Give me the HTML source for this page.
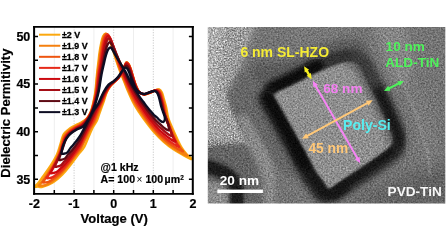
<!DOCTYPE html>
<html><head><meta charset="utf-8"><title>Dielectric permittivity and TEM</title>
<style>
html,body{margin:0;padding:0;background:#fff;}
body{width:448px;height:252px;overflow:hidden;}
svg{display:block}
text{font-family:"Liberation Sans",Arial,sans-serif;font-weight:bold;fill:#000}
.tl{font-size:12.5px;stroke:#000;stroke-width:0.2px}
.al{font-size:13.05px;stroke:#000;stroke-width:0.2px}
.lg{font-size:8.9px;stroke:#000;stroke-width:0.3px}
.an{font-size:10.6px;stroke:#000;stroke-width:0.2px}
.tm{font-weight:bold}
</style></head><body>
<svg width="448" height="252" viewBox="0 0 448 252">
<rect x="0" y="0" width="448" height="252" fill="#fff"/>
<line x1="54.30" y1="26.85" x2="54.30" y2="193.90" stroke="#ececec" stroke-width="0.9"/>
<line x1="74.10" y1="26.85" x2="74.10" y2="193.90" stroke="#c4c4c4" stroke-width="0.9" stroke-dasharray="1.2,1.4"/>
<line x1="93.90" y1="26.85" x2="93.90" y2="193.90" stroke="#ececec" stroke-width="0.9"/>
<line x1="113.70" y1="26.85" x2="113.70" y2="193.90" stroke="#c4c4c4" stroke-width="0.9" stroke-dasharray="1.2,1.4"/>
<line x1="133.50" y1="26.85" x2="133.50" y2="193.90" stroke="#ececec" stroke-width="0.9"/>
<line x1="153.30" y1="26.85" x2="153.30" y2="193.90" stroke="#c4c4c4" stroke-width="0.9" stroke-dasharray="1.2,1.4"/>
<line x1="173.10" y1="26.85" x2="173.10" y2="193.90" stroke="#ececec" stroke-width="0.9"/>
<path d="M192.00,159.00C191.67,158.93 191.43,159.23 190.00,158.60C188.57,157.97 186.15,156.73 183.40,155.20C180.65,153.67 176.82,151.67 173.50,149.40C170.18,147.13 166.60,144.33 163.50,141.60C160.40,138.87 157.65,136.07 154.90,133.00C152.15,129.93 149.48,126.45 147.00,123.20C144.52,119.95 142.17,116.70 140.00,113.50C137.83,110.30 136.08,107.92 134.00,104.00C131.92,100.08 129.22,93.97 127.50,90.00C125.78,86.03 125.02,83.50 123.70,80.20C122.38,76.90 120.82,73.40 119.60,70.20C118.38,67.00 117.45,64.20 116.40,61.00C115.35,57.80 114.30,54.17 113.30,51.00C112.30,47.83 111.28,44.45 110.40,42.00C109.52,39.55 108.85,37.70 108.00,36.30C107.15,34.90 106.13,33.57 105.30,33.60C104.47,33.63 103.68,34.93 103.00,36.50C102.32,38.07 101.77,40.42 101.20,43.00C100.63,45.58 100.07,48.83 99.60,52.00C99.13,55.17 98.83,58.33 98.40,62.00C97.97,65.67 97.52,69.00 97.00,74.00C96.48,79.00 95.97,87.00 95.30,92.00C94.63,97.00 93.83,100.50 93.00,104.00C92.17,107.50 91.43,110.47 90.30,113.00C89.17,115.53 87.82,117.57 86.20,119.20C84.58,120.83 82.60,121.67 80.60,122.80C78.60,123.93 76.23,124.87 74.20,126.00C72.17,127.13 70.18,128.17 68.40,129.60C66.62,131.03 64.80,132.27 63.50,134.60C62.20,136.93 61.68,140.27 60.60,143.60C59.52,146.93 58.63,150.95 57.00,154.60C55.37,158.25 53.18,161.77 50.80,165.50C48.42,169.23 44.85,173.98 42.70,177.00C40.55,180.02 39.20,182.00 37.90,183.60C36.60,185.20 34.88,186.10 34.90,186.60C34.92,187.10 36.75,186.57 38.00,186.60C39.25,186.63 40.02,187.43 42.40,186.80C44.78,186.17 49.00,184.83 52.30,182.80C55.60,180.77 59.22,177.53 62.20,174.60C65.18,171.67 67.50,168.57 70.20,165.20C72.90,161.83 76.03,157.50 78.40,154.40C80.77,151.30 82.68,149.58 84.40,146.60C86.12,143.62 87.27,139.77 88.70,136.50C90.13,133.23 91.67,129.58 93.00,127.00C94.33,124.42 95.70,123.08 96.70,121.00C97.70,118.92 98.20,116.75 99.00,114.50C99.80,112.25 100.63,109.92 101.50,107.50C102.37,105.08 103.35,102.50 104.20,100.00C105.05,97.50 105.63,94.75 106.60,92.50C107.57,90.25 108.72,88.25 110.00,86.50C111.28,84.75 112.90,83.42 114.30,82.00C115.70,80.58 117.12,79.58 118.40,78.00C119.68,76.42 120.98,74.42 122.00,72.50C123.02,70.58 123.77,68.17 124.50,66.50C125.23,64.83 125.73,62.92 126.40,62.50C127.07,62.08 127.82,63.00 128.50,64.00C129.18,65.00 129.88,66.83 130.50,68.50C131.12,70.17 131.40,71.42 132.20,74.00C133.00,76.58 134.25,81.17 135.30,84.00C136.35,86.83 137.47,89.37 138.50,91.00C139.53,92.63 140.33,93.25 141.50,93.80C142.67,94.35 143.92,94.52 145.50,94.30C147.08,94.08 149.25,93.22 151.00,92.50C152.75,91.78 154.65,90.52 156.00,90.00C157.35,89.48 158.13,89.03 159.10,89.40C160.07,89.77 161.05,90.77 161.80,92.20C162.55,93.63 162.88,95.53 163.60,98.00C164.32,100.47 165.32,103.67 166.10,107.00C166.88,110.33 167.23,114.42 168.30,118.00C169.37,121.58 171.08,125.17 172.50,128.50C173.92,131.83 175.33,134.92 176.80,138.00C178.27,141.08 179.63,144.25 181.30,147.00C182.97,149.75 185.02,152.50 186.80,154.50C188.58,156.50 191.13,158.25 192.00,159.00" fill="none" stroke="#fba80f" stroke-width="2.35" stroke-linejoin="round" stroke-linecap="round"/>
<path d="M187.50,155.70C187.18,155.62 186.88,155.86 185.57,155.24C184.26,154.62 182.11,153.46 179.65,151.99C177.20,150.51 173.80,148.55 170.84,146.39C167.88,144.23 164.68,141.64 161.89,139.03C159.10,136.42 156.61,133.69 154.10,130.75C151.59,127.81 149.12,124.49 146.84,121.40C144.56,118.31 142.45,115.21 140.43,112.21C138.41,109.22 136.74,107.15 134.71,103.45C132.67,99.75 129.97,93.88 128.21,90.01C126.46,86.15 125.55,83.53 124.20,80.26C122.86,77.00 121.35,73.60 120.15,70.42C118.95,67.24 118.05,64.40 117.02,61.19C115.99,57.97 114.96,54.32 113.95,51.14C112.93,47.95 111.84,44.55 110.94,42.08C110.04,39.61 109.37,37.75 108.53,36.34C107.69,34.93 106.74,33.59 105.92,33.63C105.11,33.66 104.34,34.96 103.66,36.54C102.98,38.11 102.43,40.44 101.86,43.07C101.29,45.70 100.73,49.12 100.26,52.32C99.78,55.53 99.48,58.68 99.01,62.29C98.54,65.90 98.01,69.06 97.45,74.00C96.88,78.94 96.33,86.95 95.64,91.90C94.95,96.85 94.14,100.27 93.31,103.71C92.48,107.15 91.75,109.99 90.64,112.54C89.52,115.08 88.22,117.16 86.62,118.96C85.03,120.77 83.06,122.05 81.05,123.37C79.04,124.68 76.63,125.59 74.56,126.85C72.49,128.10 70.41,129.34 68.63,130.90C66.86,132.46 65.18,133.87 63.93,136.20C62.69,138.53 62.18,141.69 61.17,144.90C60.16,148.11 59.32,151.96 57.85,155.46C56.38,158.96 54.45,162.36 52.36,165.90C50.27,169.44 47.17,173.88 45.30,176.70C43.43,179.52 42.26,181.32 41.15,182.80C40.03,184.29 38.60,185.12 38.60,185.60C38.60,186.08 40.03,185.75 41.16,185.68C42.30,185.61 43.52,185.92 45.42,185.18C47.33,184.44 50.10,183.00 52.58,181.23C55.05,179.46 57.83,177.03 60.27,174.57C62.72,172.11 64.84,169.44 67.25,166.47C69.65,163.50 72.46,159.69 74.70,156.74C76.95,153.80 78.93,151.79 80.74,148.81C82.54,145.83 83.92,142.17 85.54,138.86C87.15,135.55 88.90,131.80 90.44,128.96C91.98,126.13 93.59,124.22 94.80,121.85C96.01,119.49 96.75,117.14 97.69,114.79C98.63,112.45 99.49,110.16 100.43,107.79C101.37,105.42 102.31,103.12 103.31,100.57C104.32,98.02 105.33,94.82 106.44,92.47C107.55,90.12 108.66,88.21 109.97,86.46C111.28,84.71 112.88,83.40 114.28,81.99C115.69,80.57 117.11,79.57 118.40,77.99C119.68,76.41 120.98,74.41 122.00,72.50C123.02,70.58 123.76,68.17 124.50,66.51C125.23,64.84 125.73,62.93 126.40,62.52C127.06,62.10 127.81,63.01 128.50,64.01C129.18,65.01 129.88,66.84 130.50,68.51C131.11,70.18 131.40,71.43 132.20,74.01C132.99,76.59 134.24,81.17 135.29,84.00C136.33,86.82 137.42,89.33 138.45,90.96C139.48,92.59 140.29,93.22 141.46,93.77C142.62,94.33 143.85,94.51 145.44,94.28C147.02,94.05 149.25,93.09 150.94,92.40C152.64,91.71 154.34,90.62 155.60,90.17C156.86,89.72 157.59,89.33 158.50,89.70C159.42,90.08 160.36,91.04 161.08,92.44C161.80,93.84 162.14,95.70 162.82,98.10C163.49,100.50 164.40,103.62 165.11,106.81C165.83,110.00 166.15,113.84 167.11,117.25C168.07,120.67 169.62,124.12 170.89,127.30C172.16,130.48 173.43,133.43 174.71,136.33C176.00,139.24 177.19,142.17 178.61,144.72C180.03,147.26 181.76,149.78 183.24,151.61C184.72,153.44 186.79,155.02 187.50,155.70" fill="none" stroke="#f5800f" stroke-width="2.35" stroke-linejoin="round" stroke-linecap="round"/>
<path d="M183.00,151.30C182.69,151.22 182.32,151.40 181.14,150.81C179.96,150.23 178.06,149.17 175.91,147.78C173.75,146.40 170.79,144.53 168.18,142.53C165.58,140.52 162.76,138.20 160.28,135.78C157.80,133.36 155.56,130.76 153.30,128.01C151.03,125.25 148.76,122.14 146.68,119.26C144.61,116.38 142.72,113.49 140.86,110.73C139.00,107.97 137.47,106.15 135.52,102.70C133.57,99.24 130.91,93.70 129.14,89.97C127.38,86.25 126.30,83.56 124.94,80.36C123.57,77.16 122.14,73.89 120.95,70.77C119.77,67.65 118.87,64.84 117.82,61.65C116.78,58.46 115.73,54.83 114.69,51.64C113.64,48.44 112.48,44.98 111.56,42.48C110.63,39.98 109.95,38.05 109.13,36.61C108.31,35.18 107.42,33.82 106.64,33.85C105.85,33.88 105.08,35.19 104.41,36.79C103.74,38.38 103.18,40.73 102.61,43.41C102.04,46.10 101.50,49.71 101.01,52.92C100.53,56.13 100.21,59.15 99.71,62.67C99.21,66.18 98.63,69.15 98.02,74.00C97.42,78.85 96.80,86.89 96.08,91.78C95.36,96.67 94.54,99.97 93.71,103.33C92.88,106.69 92.18,109.37 91.08,111.93C89.98,114.49 88.70,116.71 87.11,118.70C85.51,120.69 83.54,122.40 81.51,123.87C79.48,125.33 77.04,126.17 74.94,127.49C72.84,128.81 70.66,130.18 68.90,131.78C67.15,133.38 65.60,134.88 64.43,137.11C63.25,139.34 62.77,142.20 61.83,145.17C60.90,148.13 60.12,151.67 58.82,154.89C57.53,158.12 55.86,161.26 54.07,164.50C52.28,167.74 49.66,171.78 48.08,174.33C46.50,176.88 45.52,178.45 44.59,179.77C43.66,181.10 42.45,181.86 42.50,182.30C42.55,182.74 43.77,182.52 44.87,182.41C45.96,182.30 47.36,182.43 49.07,181.64C50.77,180.86 52.99,179.36 55.10,177.70C57.21,176.05 59.59,173.94 61.73,171.71C63.88,169.47 65.82,167.03 67.97,164.31C70.13,161.59 72.62,158.14 74.65,155.40C76.68,152.66 78.49,150.65 80.15,147.86C81.81,145.07 83.09,141.75 84.61,138.65C86.13,135.55 87.77,132.03 89.26,129.25C90.75,126.47 92.32,124.36 93.54,121.97C94.75,119.58 95.58,117.21 96.55,114.89C97.52,112.58 98.38,110.36 99.36,108.07C100.34,105.78 101.30,103.75 102.43,101.14C103.56,98.53 104.90,94.89 106.14,92.42C107.38,89.96 108.54,88.09 109.89,86.34C111.23,84.60 112.82,83.34 114.23,81.94C115.65,80.54 117.09,79.53 118.38,77.96C119.67,76.38 120.97,74.39 121.99,72.49C123.01,70.59 123.75,68.20 124.48,66.56C125.22,64.91 125.72,63.03 126.38,62.62C127.05,62.21 127.79,63.12 128.47,64.11C129.15,65.11 129.85,66.92 130.47,68.58C131.08,70.24 131.38,71.52 132.17,74.08C132.96,76.65 134.20,81.19 135.22,83.98C136.24,86.77 137.28,89.22 138.30,90.84C139.32,92.46 140.17,93.12 141.34,93.69C142.51,94.26 143.73,94.49 145.32,94.25C146.91,94.02 149.24,92.95 150.89,92.30C152.53,91.65 154.03,90.73 155.20,90.34C156.37,89.95 157.05,89.60 157.91,89.97C158.77,90.34 159.67,91.23 160.36,92.57C161.05,93.91 161.40,95.72 162.03,98.00C162.66,100.29 163.48,103.29 164.13,106.29C164.77,109.29 165.07,112.82 165.92,116.01C166.78,119.20 168.16,122.46 169.28,125.42C170.40,128.39 171.52,131.14 172.63,133.81C173.73,136.48 174.74,139.13 175.92,141.44C177.10,143.75 178.50,146.01 179.68,147.66C180.86,149.30 182.45,150.69 183.00,151.30" fill="none" stroke="#ee5510" stroke-width="2.35" stroke-linejoin="round" stroke-linecap="round"/>
<path d="M179.00,146.70C178.70,146.62 178.26,146.74 177.19,146.19C176.13,145.64 174.49,144.68 172.61,143.40C170.73,142.12 168.19,140.34 165.92,138.50C163.64,136.67 161.18,134.63 158.98,132.41C156.78,130.18 154.77,127.73 152.72,125.17C150.67,122.62 148.56,119.73 146.67,117.07C144.78,114.41 143.09,111.74 141.38,109.21C139.67,106.68 138.29,105.09 136.42,101.88C134.56,98.66 131.96,93.49 130.19,89.93C128.42,86.36 127.18,83.59 125.79,80.47C124.41,77.35 123.07,74.23 121.89,71.21C120.71,68.19 119.79,65.46 118.72,62.35C117.64,59.24 116.55,55.71 115.47,52.55C114.38,49.39 113.16,45.91 112.21,43.38C111.26,40.85 110.58,38.84 109.77,37.36C108.97,35.89 108.15,34.51 107.39,34.52C106.63,34.54 105.87,35.87 105.21,37.47C104.54,39.07 103.97,41.44 103.41,44.14C102.84,46.84 102.30,50.53 101.81,53.68C101.31,56.84 100.97,59.70 100.45,63.09C99.92,66.47 99.31,69.24 98.66,74.00C98.02,78.76 97.32,86.82 96.57,91.64C95.82,96.46 94.99,99.64 94.16,102.91C93.32,106.19 92.66,108.68 91.57,111.26C90.48,113.85 89.22,116.23 87.62,118.41C86.02,120.59 84.02,122.73 81.97,124.34C79.92,125.94 77.45,126.68 75.32,128.04C73.18,129.40 70.91,130.87 69.17,132.48C67.44,134.10 66.03,135.64 64.92,137.72C63.80,139.80 63.35,142.32 62.49,144.98C61.64,147.64 60.91,150.82 59.79,153.71C58.68,156.60 57.27,159.43 55.78,162.32C54.29,165.22 52.15,168.82 50.86,171.06C49.56,173.30 48.77,174.62 48.03,175.78C47.29,176.93 46.30,177.61 46.40,178.00C46.50,178.39 47.56,178.27 48.62,178.13C49.68,177.99 51.22,177.98 52.77,177.16C54.32,176.35 56.11,174.80 57.92,173.25C59.74,171.69 61.78,169.85 63.66,167.83C65.55,165.81 67.31,163.58 69.22,161.12C71.12,158.66 73.31,155.59 75.11,153.09C76.91,150.59 78.52,148.66 80.00,146.12C81.48,143.58 82.62,140.67 84.00,137.85C85.38,135.03 86.88,131.84 88.28,129.18C89.67,126.53 91.18,124.31 92.37,121.93C93.56,119.56 94.43,117.22 95.42,114.95C96.41,112.69 97.27,110.56 98.29,108.36C99.31,106.15 100.30,104.38 101.54,101.71C102.79,99.05 104.39,94.95 105.76,92.36C107.12,89.77 108.34,87.90 109.74,86.15C111.14,84.40 112.72,83.25 114.15,81.87C115.59,80.49 117.05,79.45 118.35,77.88C119.65,76.31 120.95,74.32 121.96,72.46C122.98,70.60 123.71,68.29 124.44,66.70C125.18,65.10 125.68,63.30 126.34,62.91C127.01,62.52 127.73,63.40 128.41,64.38C129.08,65.36 129.77,67.13 130.38,68.78C131.00,70.43 131.32,71.75 132.11,74.28C132.89,76.80 134.09,81.21 135.08,83.94C136.07,86.67 137.03,89.03 138.04,90.63C139.05,92.24 139.95,92.96 141.13,93.56C142.32,94.16 143.55,94.44 145.16,94.22C146.78,93.99 149.22,92.82 150.83,92.20C152.43,91.58 153.72,90.84 154.80,90.51C155.88,90.19 156.51,89.87 157.32,90.24C158.14,90.60 159.01,91.42 159.68,92.69C160.35,93.96 160.74,95.70 161.34,97.87C161.94,100.04 162.68,102.91 163.29,105.71C163.89,108.51 164.18,111.72 164.96,114.67C165.74,117.62 166.98,120.68 167.98,123.42C168.97,126.16 169.98,128.70 170.93,131.13C171.88,133.56 172.73,135.92 173.68,137.99C174.63,140.05 175.72,142.06 176.61,143.51C177.49,144.96 178.60,146.17 179.00,146.70" fill="none" stroke="#e62a1a" stroke-width="2.35" stroke-linejoin="round" stroke-linecap="round"/>
<path d="M175.50,141.60C175.20,141.51 174.69,141.59 173.73,141.09C172.77,140.58 171.38,139.73 169.76,138.57C168.15,137.40 166.00,135.73 164.04,134.09C162.08,132.45 159.93,130.72 157.99,128.72C156.04,126.72 154.23,124.45 152.37,122.11C150.50,119.78 148.54,117.14 146.82,114.72C145.09,112.30 143.56,109.89 141.99,107.60C140.42,105.31 139.18,103.94 137.40,100.99C135.62,98.03 133.11,93.26 131.33,89.86C129.55,86.46 128.14,83.61 126.74,80.59C125.34,77.56 124.11,74.59 122.93,71.71C121.75,68.82 120.78,66.23 119.67,63.26C118.56,60.30 117.40,56.98 116.27,53.92C115.14,50.86 113.86,47.43 112.89,44.92C111.91,42.40 111.22,40.32 110.43,38.82C109.64,37.32 108.90,35.92 108.16,35.92C107.43,35.91 106.68,37.22 106.03,38.80C105.37,40.37 104.79,42.71 104.23,45.34C103.66,47.98 103.13,51.56 102.63,54.59C102.12,57.62 101.76,60.30 101.21,63.53C100.66,66.77 100.04,69.34 99.35,74.00C98.66,78.66 97.87,86.74 97.09,91.49C96.30,96.23 95.47,99.29 94.63,102.47C93.80,105.64 93.17,107.94 92.09,110.55C91.01,113.16 89.75,115.75 88.15,118.12C86.54,120.49 84.51,123.05 82.43,124.79C80.36,126.52 77.86,127.15 75.69,128.53C73.53,129.91 71.16,131.46 69.44,133.06C67.73,134.66 66.46,136.22 65.41,138.12C64.36,140.02 63.93,142.15 63.15,144.48C62.38,146.81 61.71,149.57 60.77,152.09C59.82,154.61 58.68,157.09 57.50,159.60C56.31,162.11 54.64,165.24 53.63,167.16C52.63,169.08 52.02,170.13 51.47,171.10C50.91,172.07 50.15,172.66 50.30,173.00C50.45,173.34 51.36,173.32 52.39,173.15C53.43,172.99 55.08,172.86 56.50,172.02C57.92,171.18 59.34,169.59 60.90,168.13C62.45,166.67 64.20,165.07 65.83,163.26C67.47,161.45 69.05,159.44 70.72,157.26C72.39,155.07 74.27,152.38 75.83,150.16C77.39,147.93 78.78,146.13 80.06,143.89C81.35,141.65 82.33,139.19 83.55,136.69C84.77,134.19 86.11,131.38 87.39,128.90C88.68,126.42 90.09,124.13 91.24,121.81C92.40,119.49 93.31,117.19 94.31,114.99C95.30,112.80 96.16,110.76 97.21,108.64C98.27,106.53 99.31,105.01 100.66,102.29C102.01,99.56 103.82,95.02 105.30,92.28C106.79,89.55 108.09,87.63 109.54,85.88C111.00,84.13 112.58,83.13 114.04,81.77C115.50,80.42 116.99,79.31 118.30,77.75C119.61,76.19 120.90,74.20 121.91,72.41C122.92,70.61 123.64,68.46 124.37,66.97C125.10,65.48 125.62,63.82 126.27,63.47C126.92,63.13 127.62,63.95 128.28,64.90C128.93,65.84 129.60,67.53 130.22,69.15C130.84,70.78 131.20,72.20 131.98,74.65C132.75,77.11 133.90,81.26 134.86,83.88C135.81,86.49 136.69,88.76 137.68,90.35C138.68,91.93 139.63,92.74 140.85,93.38C142.06,94.01 143.33,94.38 144.98,94.17C146.64,93.96 149.20,92.68 150.77,92.10C152.34,91.52 153.40,90.96 154.40,90.69C155.40,90.42 155.98,90.14 156.76,90.48C157.53,90.83 158.39,91.57 159.05,92.77C159.72,93.96 160.14,95.61 160.74,97.65C161.33,99.68 162.02,102.40 162.60,104.98C163.18,107.56 163.49,110.43 164.22,113.11C164.95,115.80 166.09,118.61 166.99,121.11C167.89,123.60 168.81,125.90 169.62,128.06C170.44,130.23 171.16,132.28 171.89,134.08C172.62,135.88 173.41,137.62 174.02,138.87C174.62,140.13 175.25,141.15 175.50,141.60" fill="none" stroke="#cc0a10" stroke-width="2.35" stroke-linejoin="round" stroke-linecap="round"/>
<path d="M172.30,136.20C172.01,136.12 171.41,136.15 170.56,135.69C169.71,135.24 168.55,134.51 167.18,133.47C165.82,132.42 164.06,130.88 162.39,129.44C160.73,128.01 158.89,126.60 157.18,124.85C155.48,123.10 153.84,121.01 152.15,118.92C150.46,116.83 148.63,114.45 147.05,112.29C145.47,110.13 144.09,107.98 142.66,105.94C141.22,103.90 140.12,102.74 138.43,100.04C136.74,97.35 134.31,93.00 132.53,89.77C130.76,86.55 129.18,83.64 127.77,80.72C126.35,77.80 125.24,74.98 124.06,72.26C122.87,69.54 121.83,67.13 120.67,64.38C119.51,61.64 118.28,58.63 117.10,55.77C115.92,52.91 114.58,49.64 113.58,47.21C112.58,44.79 111.88,42.70 111.11,41.22C110.34,39.74 109.67,38.38 108.96,38.34C108.25,38.30 107.52,39.52 106.87,40.98C106.22,42.44 105.63,44.66 105.07,47.10C104.50,49.54 103.98,52.80 103.47,55.62C102.95,58.44 102.56,60.94 101.99,64.00C101.43,67.07 100.80,69.45 100.07,74.00C99.35,78.55 98.46,86.67 97.64,91.33C96.81,96.00 95.97,98.92 95.14,102.00C94.30,105.07 93.71,107.16 92.64,109.79C91.56,112.43 90.31,115.25 88.69,117.82C87.06,120.39 85.00,123.35 82.90,125.19C80.81,127.04 78.29,127.53 76.11,128.89C73.92,130.26 71.47,131.85 69.79,133.39C68.11,134.92 66.99,136.44 66.02,138.10C65.06,139.76 64.67,141.43 63.99,143.35C63.32,145.27 62.73,147.53 61.99,149.60C61.24,151.67 60.39,153.72 59.52,155.79C58.65,157.85 57.48,160.45 56.77,162.00C56.07,163.55 55.66,164.30 55.30,165.06C54.94,165.83 54.39,166.32 54.60,166.60C54.81,166.88 55.58,166.95 56.59,166.77C57.59,166.59 59.36,166.35 60.65,165.50C61.95,164.65 63.04,163.03 64.35,161.68C65.66,160.33 67.12,158.97 68.51,157.39C69.90,155.81 71.30,154.07 72.71,152.21C74.12,150.34 75.68,148.10 76.97,146.21C78.27,144.33 79.40,142.75 80.46,140.89C81.52,139.02 82.30,137.10 83.33,135.00C84.36,132.91 85.50,130.56 86.64,128.32C87.78,126.08 89.08,123.78 90.18,121.56C91.27,119.34 92.21,117.11 93.21,115.00C94.20,112.90 95.05,110.95 96.14,108.93C97.24,106.90 98.33,105.65 99.77,102.86C101.21,100.07 103.20,95.09 104.79,92.20C106.37,89.31 107.77,87.29 109.29,85.53C110.80,83.77 112.40,82.97 113.89,81.64C115.38,80.32 116.91,79.12 118.23,77.57C119.55,76.01 120.81,74.01 121.82,72.32C122.82,70.62 123.52,68.73 124.24,67.41C124.97,66.09 125.51,64.67 126.14,64.40C126.78,64.12 127.43,64.85 128.06,65.75C128.70,66.65 129.34,68.19 129.95,69.78C130.57,71.36 131.00,72.94 131.76,75.28C132.52,77.61 133.61,81.33 134.52,83.78C135.43,86.24 136.23,88.42 137.22,89.98C138.22,91.54 139.22,92.45 140.48,93.14C141.74,93.83 143.07,94.31 144.78,94.12C146.48,93.93 149.18,92.54 150.71,92.00C152.25,91.46 153.09,91.07 154.00,90.86C154.91,90.64 155.46,90.40 156.20,90.72C156.94,91.05 157.79,91.70 158.45,92.81C159.11,93.92 159.59,95.48 160.19,97.37C160.78,99.26 161.43,101.82 162.00,104.16C162.58,106.50 162.92,109.01 163.62,111.42C164.32,113.83 165.36,116.38 166.18,118.61C167.00,120.83 167.85,122.88 168.55,124.76C169.25,126.64 169.84,128.38 170.37,129.91C170.90,131.44 171.40,132.90 171.72,133.95C172.04,135.00 172.20,135.82 172.30,136.20" fill="none" stroke="#a50e16" stroke-width="2.35" stroke-linejoin="round" stroke-linecap="round"/>
<path d="M168.60,130.30C168.32,130.22 167.64,130.21 166.90,129.81C166.16,129.41 165.25,128.81 164.16,127.91C163.07,127.01 161.71,125.62 160.36,124.41C159.01,123.20 157.51,122.15 156.07,120.67C154.63,119.18 153.20,117.33 151.71,115.50C150.22,113.67 148.54,111.59 147.13,109.70C145.72,107.82 144.51,105.96 143.23,104.19C141.95,102.41 141.01,101.46 139.43,99.04C137.86,96.62 135.53,92.71 133.77,89.67C132.01,86.64 130.28,83.66 128.86,80.85C127.44,78.05 126.44,75.39 125.25,72.86C124.06,70.33 122.94,68.15 121.72,65.70C120.50,63.24 119.18,60.68 117.94,58.12C116.70,55.57 115.31,52.59 114.28,50.37C113.26,48.15 112.55,46.18 111.80,44.80C111.05,43.42 110.45,42.18 109.77,42.09C109.09,41.99 108.37,43.02 107.73,44.25C107.09,45.47 106.49,47.38 105.93,49.46C105.36,51.55 104.85,54.26 104.33,56.76C103.80,59.27 103.37,61.62 102.79,64.49C102.21,67.37 101.59,69.55 100.82,74.00C100.06,78.45 99.07,86.58 98.21,91.17C97.35,95.75 96.49,98.53 95.66,101.51C94.83,104.48 94.28,106.34 93.21,109.01C92.14,111.68 90.88,114.75 89.24,117.51C87.60,120.27 85.49,123.64 83.37,125.59C81.25,127.54 78.73,127.88 76.52,129.22C74.31,130.56 71.78,132.18 70.13,133.64C68.48,135.10 67.52,136.56 66.64,137.96C65.75,139.36 65.41,140.56 64.83,142.04C64.26,143.52 63.76,145.26 63.21,146.86C62.66,148.47 62.09,150.06 61.55,151.66C61.00,153.26 60.31,155.32 59.91,156.48C59.51,157.64 59.29,158.09 59.13,158.64C58.96,159.19 58.62,159.58 58.90,159.80C59.18,160.02 59.80,160.19 60.79,159.99C61.77,159.79 63.63,159.45 64.82,158.60C66.00,157.74 66.80,156.09 67.88,154.85C68.96,153.60 70.14,152.48 71.30,151.13C72.45,149.79 73.65,148.32 74.81,146.78C75.96,145.25 77.21,143.46 78.23,141.94C79.26,140.41 80.13,139.09 80.96,137.62C81.78,136.16 82.34,134.80 83.17,133.13C84.00,131.46 84.94,129.60 85.93,127.62C86.93,125.65 88.10,123.37 89.13,121.27C90.16,119.16 91.13,117.01 92.12,115.00C93.11,112.99 93.94,111.14 95.07,109.21C96.20,107.29 97.36,106.28 98.89,103.43C100.41,100.58 102.54,95.16 104.22,92.10C105.90,89.05 107.39,86.87 108.97,85.10C110.55,83.33 112.19,82.78 113.71,81.49C115.24,80.19 116.80,78.87 118.13,77.32C119.46,75.77 120.70,73.73 121.69,72.19C122.67,70.64 123.35,69.14 124.06,68.07C124.77,67.01 125.34,65.95 125.96,65.77C126.57,65.60 127.14,66.20 127.74,67.02C128.34,67.84 128.94,69.17 129.56,70.70C130.17,72.23 130.69,74.04 131.44,76.20C132.20,78.36 133.21,81.44 134.08,83.66C134.95,85.88 135.67,88.00 136.66,89.53C137.66,91.06 138.72,92.09 140.03,92.84C141.34,93.60 142.78,94.22 144.55,94.06C146.32,93.90 149.15,92.41 150.66,91.90C152.17,91.39 152.77,91.19 153.60,91.03C154.43,90.87 154.92,90.65 155.62,90.95C156.32,91.25 157.15,91.81 157.80,92.81C158.46,93.82 158.97,95.27 159.55,97.00C160.12,98.73 160.72,101.11 161.26,103.19C161.80,105.27 162.16,107.40 162.79,109.50C163.43,111.60 164.35,113.87 165.07,115.80C165.78,117.73 166.53,119.48 167.09,121.07C167.64,122.65 168.09,124.04 168.40,125.28C168.71,126.53 168.90,127.70 168.93,128.54C168.97,129.37 168.66,130.01 168.60,130.30" fill="none" stroke="#5e0a14" stroke-width="2.35" stroke-linejoin="round" stroke-linecap="round"/>
<path d="M163.20,122.00C162.93,121.93 162.20,121.90 161.60,121.60C161.00,121.30 160.37,120.88 159.60,120.20C158.83,119.52 157.95,118.37 157.00,117.50C156.05,116.63 154.98,116.08 153.90,115.00C152.82,113.92 151.70,112.43 150.50,111.00C149.30,109.57 147.87,107.90 146.70,106.40C145.53,104.90 144.57,103.43 143.50,102.00C142.43,100.57 141.72,99.88 140.30,97.80C138.88,95.72 136.72,92.30 135.00,89.50C133.28,86.70 131.42,83.67 130.00,81.00C128.58,78.33 127.70,75.80 126.50,73.50C125.30,71.20 124.08,69.28 122.80,67.20C121.52,65.12 120.10,63.12 118.80,61.00C117.50,58.88 116.05,56.37 115.00,54.50C113.95,52.63 113.23,50.97 112.50,49.80C111.77,48.63 111.25,47.67 110.60,47.50C109.95,47.33 109.23,47.97 108.60,48.80C107.97,49.63 107.37,50.97 106.80,52.50C106.23,54.03 105.73,55.92 105.20,58.00C104.67,60.08 104.20,62.33 103.60,65.00C103.00,67.67 102.40,69.67 101.60,74.00C100.80,78.33 99.70,86.50 98.80,91.00C97.90,95.50 97.03,98.13 96.20,101.00C95.37,103.87 94.87,105.50 93.80,108.20C92.73,110.90 91.47,114.23 89.80,117.20C88.13,120.17 85.97,123.93 83.80,126.00C81.63,128.07 79.07,128.27 76.80,129.60C74.53,130.93 71.87,132.60 70.20,134.00C68.53,135.40 67.67,136.83 66.80,138.00C65.93,139.17 65.55,139.92 65.00,141.00C64.45,142.08 63.93,143.33 63.50,144.50C63.07,145.67 62.70,146.83 62.40,148.00C62.10,149.17 61.85,150.70 61.70,151.50C61.55,152.30 61.50,152.45 61.50,152.80C61.50,153.15 61.37,153.43 61.70,153.60C62.03,153.77 62.53,154.02 63.50,153.80C64.47,153.58 66.42,153.17 67.50,152.30C68.58,151.43 69.12,149.75 70.00,148.60C70.88,147.45 71.83,146.53 72.80,145.40C73.77,144.27 74.83,143.03 75.80,141.80C76.77,140.57 77.77,139.20 78.60,138.00C79.43,136.80 80.13,135.70 80.80,134.60C81.47,133.50 81.90,132.67 82.60,131.40C83.30,130.13 84.10,128.73 85.00,127.00C85.90,125.27 87.00,123.00 88.00,121.00C89.00,119.00 90.00,116.92 91.00,115.00C92.00,113.08 92.83,111.33 94.00,109.50C95.17,107.67 96.40,106.92 98.00,104.00C99.60,101.08 101.83,95.23 103.60,92.00C105.37,88.77 106.95,86.38 108.60,84.60C110.25,82.82 111.93,82.57 113.50,81.30C115.07,80.03 116.67,78.55 118.00,77.00C119.33,75.45 120.53,73.33 121.50,72.00C122.47,70.67 123.10,69.72 123.80,69.00C124.50,68.28 125.12,67.73 125.70,67.70C126.28,67.67 126.75,68.08 127.30,68.80C127.85,69.52 128.38,70.55 129.00,72.00C129.62,73.45 130.25,75.58 131.00,77.50C131.75,79.42 132.67,81.58 133.50,83.50C134.33,85.42 135.00,87.50 136.00,89.00C137.00,90.50 138.12,91.67 139.50,92.50C140.88,93.33 142.45,94.12 144.30,94.00C146.15,93.88 149.12,92.27 150.60,91.80C152.08,91.33 152.47,91.32 153.20,91.20C153.93,91.08 154.37,90.87 155.00,91.10C155.63,91.33 156.40,91.75 157.00,92.60C157.60,93.45 158.10,94.72 158.60,96.20C159.10,97.68 159.57,99.78 160.00,101.50C160.43,103.22 160.72,104.83 161.20,106.50C161.68,108.17 162.38,110.00 162.90,111.50C163.42,113.00 163.97,114.33 164.30,115.50C164.63,116.67 164.87,117.62 164.90,118.50C164.93,119.38 164.78,120.22 164.50,120.80C164.22,121.38 163.42,121.80 163.20,122.00" fill="none" stroke="#0d0d22" stroke-width="2.35" stroke-linejoin="round" stroke-linecap="round"/>
<path d="M33.10,26.85H193.80M33.10,193.90H193.80" stroke="#000" stroke-width="1.6" fill="none"/>
<path d="M34.10,26.05V194.70M192.80,26.05V194.70" stroke="#000" stroke-width="2" fill="none"/>
<path d="M54.30,193.90v-3.9M74.10,193.90v-3.9M93.90,193.90v-3.9M113.70,193.90v-3.9M133.50,193.90v-3.9M153.30,193.90v-3.9M173.10,193.90v-3.9M34.10,179.35h3.9M192.80,179.35h-3.9M34.10,155.52h3.9M192.80,155.52h-3.9M34.10,131.70h3.9M192.80,131.70h-3.9M34.10,107.88h3.9M192.80,107.88h-3.9M34.10,84.05h3.9M192.80,84.05h-3.9M34.10,60.22h3.9M192.80,60.22h-3.9M34.10,36.40h3.9M192.80,36.40h-3.9" stroke="#000" stroke-width="1.5" fill="none"/>
<text x="34.30" y="207.8" text-anchor="middle" class="tl">-2</text>
<text x="73.90" y="207.8" text-anchor="middle" class="tl">-1</text>
<text x="113.70" y="207.8" text-anchor="middle" class="tl">0</text>
<text x="153.30" y="207.8" text-anchor="middle" class="tl">1</text>
<text x="192.90" y="207.8" text-anchor="middle" class="tl">2</text>
<text x="30.3" y="183.65" text-anchor="end" class="tl">35</text>
<text x="30.3" y="136.00" text-anchor="end" class="tl">40</text>
<text x="30.3" y="88.35" text-anchor="end" class="tl">45</text>
<text x="30.3" y="40.70" text-anchor="end" class="tl">50</text>
<text x="114.2" y="222.6" text-anchor="middle" class="al">Voltage (V)</text>
<text transform="translate(9.9,113.1) rotate(-90)" text-anchor="middle" class="al">Dielectric Permitivity</text>
<line x1="39" y1="34.70" x2="60.3" y2="34.70" stroke="#fba80f" stroke-width="2"/>
<text x="62" y="37.90" class="lg">±2 V</text>
<line x1="39" y1="45.76" x2="60.3" y2="45.76" stroke="#f5800f" stroke-width="2"/>
<text x="62" y="48.96" class="lg">±1.9 V</text>
<line x1="39" y1="56.82" x2="60.3" y2="56.82" stroke="#ee5510" stroke-width="2"/>
<text x="62" y="60.02" class="lg">±1.8 V</text>
<line x1="39" y1="67.88" x2="60.3" y2="67.88" stroke="#e62a1a" stroke-width="2"/>
<text x="62" y="71.08" class="lg">±1.7 V</text>
<line x1="39" y1="78.94" x2="60.3" y2="78.94" stroke="#cc0a10" stroke-width="2"/>
<text x="62" y="82.14" class="lg">±1.6 V</text>
<line x1="39" y1="90.00" x2="60.3" y2="90.00" stroke="#a50e16" stroke-width="2"/>
<text x="62" y="93.20" class="lg">±1.5 V</text>
<line x1="39" y1="101.06" x2="60.3" y2="101.06" stroke="#5e0a14" stroke-width="2"/>
<text x="62" y="104.26" class="lg">±1.4 V</text>
<line x1="39" y1="112.12" x2="60.3" y2="112.12" stroke="#0d0d22" stroke-width="2"/>
<text x="62" y="115.32" class="lg">±1.3 V</text>
<text x="100.6" y="170.6" class="an">@1 kHz</text>
<text x="100.6" y="183.3" class="an">A= 100 <tspan x="136.6" font-weight="normal" stroke="none" font-size="10">×</tspan><tspan x="145.4">100</tspan><tspan x="164.6">µm</tspan><tspan font-size="6.4" dy="-3.7">2</tspan></text>
<defs>
<clipPath id="tc"><rect x="207.80" y="26.90" width="237.50" height="176.50"/></clipPath>
<filter id="b1" x="-20%" y="-20%" width="140%" height="140%"><feGaussianBlur stdDeviation="1"/></filter>
<filter id="b15" x="-20%" y="-20%" width="140%" height="140%"><feGaussianBlur stdDeviation="1.5"/></filter>
<filter id="b2" x="-30%" y="-30%" width="160%" height="160%"><feGaussianBlur stdDeviation="2"/></filter>
<filter id="b3" x="-30%" y="-30%" width="160%" height="160%"><feGaussianBlur stdDeviation="3.2"/></filter>
<filter id="b5" x="-40%" y="-40%" width="180%" height="180%"><feGaussianBlur stdDeviation="5"/></filter>
<filter id="b8" x="-50%" y="-50%" width="200%" height="200%"><feGaussianBlur stdDeviation="8"/></filter>
<filter id="nz" x="0" y="0" width="100%" height="100%" color-interpolation-filters="sRGB">
<feTurbulence type="fractalNoise" baseFrequency="0.7" numOctaves="2" seed="23" result="t"/>
<feColorMatrix in="t" type="matrix" values="0 0.8 0.4 0 -0.1  0 0.8 0.4 0 -0.1  0 0.8 0.4 0 -0.1  0 0 0 0 1"/>
</filter>
<mask id="lm" maskUnits="userSpaceOnUse" x="200" y="20" width="70" height="140"><path d="M200,20 L252,20 L244,45 L238,64 L230,84 L227.5,92 L229,99 L232,107.7 L236.5,117.7 L241,128 L248,140 L232,146 L200,149 Z" fill="#fff" filter="url(#b2)"/></mask>
<filter id="grain" x="0" y="0" width="100%" height="100%" color-interpolation-filters="sRGB" filterUnits="objectBoundingBox">
<feTurbulence type="fractalNoise" baseFrequency="0.6" numOctaves="2" seed="7" result="t"/>
<feColorMatrix in="t" type="matrix" values="1.4 0.7 0 0 -0.55  1.4 0.7 0 0 -0.55  1.4 0.7 0 0 -0.55  0 0 0 0 1" result="n"/>
<feComposite in="SourceGraphic" in2="n" operator="arithmetic" k1="0.46" k2="0.77" k3="0.07" k4="-0.035"/>
</filter>
</defs>
<g clip-path="url(#tc)">
<g filter="url(#grain)">
<rect x="205.80" y="24.90" width="241.50" height="180.50" fill="#747474"/>
<path d="M200.00,20.00C208.33,20.00 242.67,15.83 250.00,20.00C257.33,24.17 245.83,38.00 244.00,45.00C242.17,52.00 240.58,57.17 239.00,62.00C237.42,66.83 236.08,70.33 234.50,74.00C232.92,77.67 230.72,81.00 229.50,84.00C228.28,87.00 227.38,89.50 227.20,92.00C227.02,94.50 227.70,96.38 228.40,99.00C229.10,101.62 230.13,104.58 231.40,107.70C232.67,110.82 234.42,114.32 236.00,117.70C237.58,121.08 239.23,124.95 240.90,128.00C242.57,131.05 244.70,133.83 246.00,136.00C247.30,138.17 249.20,139.67 248.70,141.00C248.20,142.33 245.78,143.17 243.00,144.00C240.22,144.83 236.50,145.33 232.00,146.00C227.50,146.67 221.33,147.50 216.00,148.00C210.67,148.50 202.67,148.83 200.00,149.00Z" fill="#a2a2a2" filter="url(#b2)"/>
<path d="M200,20 L258,20 L248,45 L242,64 L236,72 L226,92 L200,100 Z" fill="#9c9c9c" filter="url(#b3)"/>
<path d="M200,20 L226,20 L220,70 L218,125 L200,135 Z" fill="#b0b0b0" filter="url(#b5)"/>
<path d="M294,20 L346,20 L356,40 L330,48 L302,46 L286,34 Z" fill="#787878" filter="url(#b5)"/>
<path d="M252,62 L290,60 L320,50 L350,42 L362,46 L352,56 L262,90 L248,80 Z" fill="#5a5a5a" filter="url(#b5)"/>
<path d="M240,72 L262,86 L274,118 L300,172 L292,180 L270,160 L250,136 L236,112 L232,92 Z" fill="#666666" filter="url(#b3)"/>
<path d="M229.5,88 L228.8,93 L230.6,99 L233.6,107.7 L238,117.7 L242.4,128 L249,139" fill="none" stroke="#5c5c5c" stroke-width="3" opacity="0.7" filter="url(#b15)"/>
<path d="M200,146 L238,143 L250,150 L258,165 L262,206 L200,206 Z" fill="#646464" filter="url(#b3)"/>
<path d="M236,116 L246,114 L258,134 L271,158 L276,176 L275,206 L265,206 L265,182 L258,164 L246,142 Z" fill="#888888" filter="url(#b2)"/>
<path d="M196,164.5 L208,166.8 Q220,169.5 228.5,175.5 Q235.5,181.5 237.0,190 L236.8,212" fill="none" stroke="#1c1c1c" stroke-width="13.5" filter="url(#b2)"/>
<path d="M196,164.5 L208,166.8 Q220,169.5 228.5,175.5 Q235.5,181.5 237.0,190 L236.8,212" fill="none" stroke="#1a1a1a" stroke-width="8.5" filter="url(#b15)"/>
<path d="M200,181 L216,182 L223.5,187 L227.5,195 L227.5,210 L200,210 Z" fill="#8c8c8c" filter="url(#b2)"/>
<path d="M372,22 L404,22 L414,60 L410,86 L394,82 L381,52 Z" fill="#868686" filter="url(#b5)"/>
<path d="M404,84 L414,80 L434,120 L438,170 L428,206 L414,206 L422,168 L420,124 Z" fill="#7a7a7a" filter="url(#b5)"/>
<path d="M340,206 L450,206 L450,160 L410,176 Z" fill="#5e5e5e" filter="url(#b8)"/>
<path d="M310,46 L346,38 L364,41 L368,50 L350,54 L318,62 Z" fill="#606060" filter="url(#b3)"/>
<path d="M398,72 Q406,88 412,104 T424,140 T430,176" fill="none" stroke="#a0a0a0" stroke-width="2.4" opacity="0.45" filter="url(#b1)"/>
<path d="M267.37,82.63C268.64,81.95 272.17,79.92 274.96,78.53C277.75,77.13 280.96,75.78 284.12,74.25C287.28,72.72 290.59,71.03 293.91,69.35C297.24,67.67 300.64,65.85 304.06,64.18C307.48,62.50 310.95,60.86 314.46,59.29C317.97,57.71 321.48,56.13 325.09,54.72C328.70,53.32 332.80,51.85 336.12,50.87C339.44,49.89 342.03,49.22 345.00,48.85C347.97,48.48 350.77,48.01 353.93,48.64C357.09,49.27 361.20,50.74 363.98,52.61C366.77,54.49 368.89,57.51 370.64,59.88C372.39,62.24 373.30,64.54 374.49,66.80C375.68,69.07 376.35,70.61 377.77,73.46C379.20,76.32 381.25,80.32 383.06,83.94C384.88,87.56 386.63,90.90 388.67,95.16C390.71,99.42 393.20,104.73 395.33,109.50C397.46,114.27 399.89,120.04 401.45,123.78C403.01,127.53 403.91,129.10 404.68,131.97C405.46,134.84 406.35,137.86 406.09,141.01C405.83,144.15 404.57,148.07 403.15,150.82C401.73,153.57 399.72,155.43 397.55,157.51C395.39,159.60 393.22,161.05 390.15,163.34C387.08,165.63 382.81,168.69 379.15,171.25C375.49,173.82 371.81,176.31 368.20,178.72C364.59,181.14 360.91,183.45 357.49,185.73C354.06,188.02 350.27,190.62 347.65,192.42C345.02,194.23 343.48,195.37 341.74,196.56C340.00,197.75 339.95,198.80 337.22,199.58C334.49,200.36 328.91,202.09 325.38,201.26C321.85,200.43 318.25,196.78 316.02,194.62C313.79,192.47 313.81,190.88 311.99,188.32C310.17,185.75 307.41,182.88 305.10,179.23C302.79,175.58 300.52,170.86 298.11,166.40C295.71,161.94 293.13,157.02 290.65,152.46C288.16,147.91 285.61,143.39 283.21,139.08C280.81,134.76 278.55,130.75 276.22,126.60C273.90,122.45 271.35,117.85 269.26,114.17C267.17,110.49 264.96,106.84 263.69,104.54C262.42,102.25 262.00,101.09 261.66,100.40Z" fill="#444444" filter="url(#b3)"/>
<path d="M338.66,57.95C339.90,57.67 343.74,56.58 346.11,56.27C348.48,55.95 350.62,55.66 352.86,56.06C355.10,56.46 357.62,57.32 359.55,58.66C361.48,60.00 363.07,62.18 364.45,64.11C365.83,66.04 366.73,68.13 367.83,70.25C368.93,72.36 369.65,73.97 371.07,76.82C372.49,79.66 375.47,85.55 376.36,87.30" fill="none" stroke="#3e3e3e" stroke-width="12" filter="url(#b3)"/>
<path d="M376.19,87.41C377.11,89.25 379.71,94.29 381.73,98.49C383.75,102.70 386.19,107.92 388.30,112.64C390.40,117.35 392.84,123.15 394.35,126.76C395.86,130.36 396.66,131.94 397.34,134.27C398.01,136.59 398.53,138.61 398.40,140.72C398.26,142.83 397.42,145.17 396.50,146.93C395.59,148.69 393.50,150.55 392.90,151.27" fill="none" stroke="#161616" stroke-width="13" filter="url(#b3)"/>
<path d="M392.69,152.86C391.60,153.71 389.05,155.81 386.15,157.96C383.26,160.11 378.92,163.24 375.30,165.77C371.69,168.30 368.07,170.76 364.48,173.15C360.89,175.55 357.21,177.87 353.77,180.16C350.33,182.45 346.50,185.08 343.85,186.90C341.21,188.72 339.39,190.03 337.90,191.07C336.41,192.12 335.40,192.82 334.90,193.17" fill="none" stroke="#303030" stroke-width="15" stroke-linecap="round" filter="url(#b3)"/>
<path d="M391.52,151.36C390.43,152.21 387.91,154.29 385.02,156.43C382.14,158.58 377.81,161.69 374.21,164.21C370.61,166.74 367.00,169.18 363.42,171.57C359.84,173.97 356.16,176.28 352.72,178.58C349.28,180.87 345.43,183.51 342.78,185.34C340.12,187.16 338.30,188.47 336.81,189.51C335.32,190.56 334.31,191.26 333.81,191.61" fill="none" stroke="#161616" stroke-width="9.5" stroke-linecap="round" filter="url(#b2)"/>
<path d="M307.45,70.87C309.13,70.08 314.14,67.66 317.54,66.13C320.93,64.60 324.36,63.06 327.82,61.71C331.28,60.36 335.23,58.96 338.28,58.05C341.32,57.15 343.86,56.61 346.11,56.27C348.36,55.93 350.82,56.05 351.76,56.00" fill="none" stroke="#303030" stroke-width="12.5" filter="url(#b3)"/>
<path d="M270.94,89.22C272.17,88.56 275.58,86.60 278.32,85.23C281.06,83.86 284.22,82.53 287.39,81.00C290.55,79.47 293.97,77.73 297.30,76.04C300.62,74.36 304.00,72.56 307.36,70.91C310.72,69.27 315.77,66.96 317.45,66.17" fill="none" stroke="#101010" stroke-width="13" stroke-linecap="round" filter="url(#b2)"/>
<path d="M323.49,194.45C322.95,193.95 321.45,192.97 320.25,191.43C319.05,189.90 318.09,187.76 316.31,185.25C314.54,182.74 311.83,179.95 309.58,176.39C307.32,172.83 305.16,168.30 302.78,163.89C300.40,159.48 297.79,154.49 295.30,149.93C292.81,145.36 290.25,140.81 287.84,136.49C285.43,132.17 283.17,128.16 280.85,124.01C278.52,119.85 275.96,115.22 273.87,111.55C271.78,107.88 269.57,104.22 268.33,101.97C267.09,99.73 266.74,98.73 266.42,98.08" fill="none" stroke="#303030" stroke-width="18" stroke-linejoin="round" stroke-linecap="round" filter="url(#b3)"/>
<path d="M343.44,186.22C342.44,186.92 339.05,189.30 337.44,190.42C335.83,191.53 335.46,192.33 333.76,192.92C332.07,193.52 329.24,194.47 327.28,194.00C325.32,193.54 323.54,191.78 322.01,190.11C320.48,188.44 319.87,186.46 318.11,183.97C316.35,181.49 313.66,178.73 311.43,175.21C309.20,171.69 307.09,167.24 304.72,162.84C302.35,158.45 298.46,151.17 297.21,148.83" fill="none" stroke="#151515" stroke-width="12.5" stroke-linejoin="round" stroke-linecap="round" filter="url(#b2)"/>
<path d="M304.27,163.07C303.02,160.74 299.28,153.68 296.79,149.11C294.30,144.55 291.73,139.99 289.32,135.67C286.91,131.34 284.66,127.34 282.33,123.18C280.00,119.02 277.43,114.38 275.35,110.71C273.26,107.04 271.05,103.38 269.81,101.15C268.58,98.92 268.26,97.97 267.95,97.34" fill="none" stroke="#0e0e0e" stroke-width="13.6" stroke-linejoin="round" stroke-linecap="round" filter="url(#b2)"/>
<path d="M273.80,94.50C275.00,93.85 278.30,91.95 281.00,90.60C283.70,89.25 286.83,87.93 290.00,86.40C293.17,84.87 296.67,83.08 300.00,81.40C303.33,79.72 306.67,77.93 310.00,76.30C313.33,74.67 316.67,73.10 320.00,71.60C323.33,70.10 326.67,68.60 330.00,67.30C333.33,66.00 337.17,64.65 340.00,63.80C342.83,62.95 345.00,62.50 347.00,62.20C349.00,61.90 350.50,61.78 352.00,62.00C353.50,62.22 354.75,62.58 356.00,63.50C357.25,64.42 358.42,65.92 359.50,67.50C360.58,69.08 361.47,71.00 362.50,73.00C363.53,75.00 364.28,76.67 365.70,79.50C367.12,82.33 369.20,86.42 371.00,90.00C372.80,93.58 374.50,96.83 376.50,101.00C378.50,105.17 380.92,110.33 383.00,115.00C385.08,119.67 387.53,125.50 389.00,129.00C390.47,132.50 391.20,134.08 391.80,136.00C392.40,137.92 392.65,139.17 392.60,140.50C392.55,141.83 392.18,142.83 391.50,144.00C390.82,145.17 390.07,146.08 388.50,147.50C386.93,148.92 384.95,150.38 382.10,152.50C379.25,154.62 374.97,157.70 371.40,160.20C367.83,162.70 364.27,165.12 360.70,167.50C357.13,169.88 353.45,172.20 350.00,174.50C346.55,176.80 342.67,179.47 340.00,181.30C337.33,183.13 335.50,184.45 334.00,185.50C332.50,186.55 331.87,187.15 331.00,187.60C330.13,188.05 329.50,188.38 328.80,188.20C328.10,188.02 327.77,187.78 326.80,186.50C325.83,185.22 324.72,182.92 323.00,180.50C321.28,178.08 318.67,175.42 316.50,172.00C314.33,168.58 312.33,164.33 310.00,160.00C307.67,155.67 305.00,150.58 302.50,146.00C300.00,141.42 297.42,136.83 295.00,132.50C292.58,128.17 290.33,124.17 288.00,120.00C285.67,115.83 283.08,111.17 281.00,107.50C278.92,103.83 276.70,100.17 275.50,98.00C274.30,95.83 274.08,95.08 273.80,94.50Z" fill="#8e8e8e" filter="url(#b1)"/>
<path d="M347.05,63.40C347.84,63.36 350.45,63.01 351.83,63.19C353.20,63.37 354.18,63.64 355.29,64.47C356.40,65.30 357.49,66.66 358.51,68.18C359.53,69.69 360.41,71.57 361.43,73.55C362.45,75.53 363.21,77.21 364.63,80.04C366.04,82.87 368.13,86.96 369.93,90.54C371.73,94.12 373.42,97.36 375.42,101.52C377.41,105.68 379.83,110.83 381.90,115.49C383.98,120.15 386.43,125.99 387.89,129.46C389.35,132.94 390.07,134.53 390.65,136.36C391.24,138.19 391.45,139.24 391.40,140.46C391.35,141.67 390.53,143.11 390.36,143.64" fill="none" stroke="#343434" stroke-width="6.5" opacity="0.6" filter="url(#b3)"/>
<rect x="200" y="20" width="70" height="140" filter="url(#nz)" mask="url(#lm)" style="mix-blend-mode:overlay"/>
</g>
<text x="240.4" y="57.3" class="tm" style="font-size:14px;fill:#f5ec35">6 nm SL-HZO</text>
<text x="323.2" y="92.6" class="tm" style="font-size:13.6px;fill:#f580f2">68 nm</text>
<text x="308.4" y="152.9" class="tm" style="font-size:13.8px;fill:#ffc878">45 nm</text>
<text x="343.0" y="130.4" class="tm" style="font-size:14.1px;fill:#58eef0">Poly-Si</text>
<text x="385.6" y="50.5" class="tm" style="font-size:13.6px;fill:#4ef25a">10 nm</text>
<text x="385.2" y="67.4" class="tm" style="font-size:13.6px;fill:#4ef25a">ALD-TiN</text>
<text x="219.8" y="185" class="tm" style="font-size:13.6px;fill:#fff">20 nm</text>
<text x="387.6" y="196.1" class="tm" style="font-size:13.6px;fill:#f6f6f6">PVD-TiN</text>
<rect x="217.3" y="189.6" width="45.6" height="3.4" fill="#fff"/>
<line x1="306.35" y1="70.17" x2="309.35" y2="75.33" stroke="#f6ee22" stroke-width="2.50"/><polygon points="311.60,79.20 306.61,75.63 310.96,73.09" fill="#f6ee22"/><polygon points="304.10,66.30 304.74,72.41 309.09,69.87" fill="#f6ee22"/>
<line x1="315.10" y1="84.96" x2="357.80" y2="159.04" stroke="#f784f6" stroke-width="2.00"/><polygon points="360.20,163.20 354.86,159.35 359.54,156.65" fill="#f784f6"/><polygon points="312.70,80.80 313.36,87.35 318.04,84.65" fill="#f784f6"/>
<line x1="306.36" y1="136.33" x2="368.24" y2="102.67" stroke="#ffc878" stroke-width="2.00"/><polygon points="372.60,100.30 368.49,105.71 365.82,100.81" fill="#ffc878"/><polygon points="302.00,138.70 308.78,138.19 306.11,133.29" fill="#ffc878"/>
<line x1="388.29" y1="88.75" x2="399.51" y2="83.15" stroke="#4ef25a" stroke-width="2.00"/><polygon points="403.80,81.00 399.64,86.10 397.23,81.27" fill="#4ef25a"/><polygon points="384.00,90.90 390.57,90.63 388.16,85.80" fill="#4ef25a"/>
</g>
</svg>
</body></html>
